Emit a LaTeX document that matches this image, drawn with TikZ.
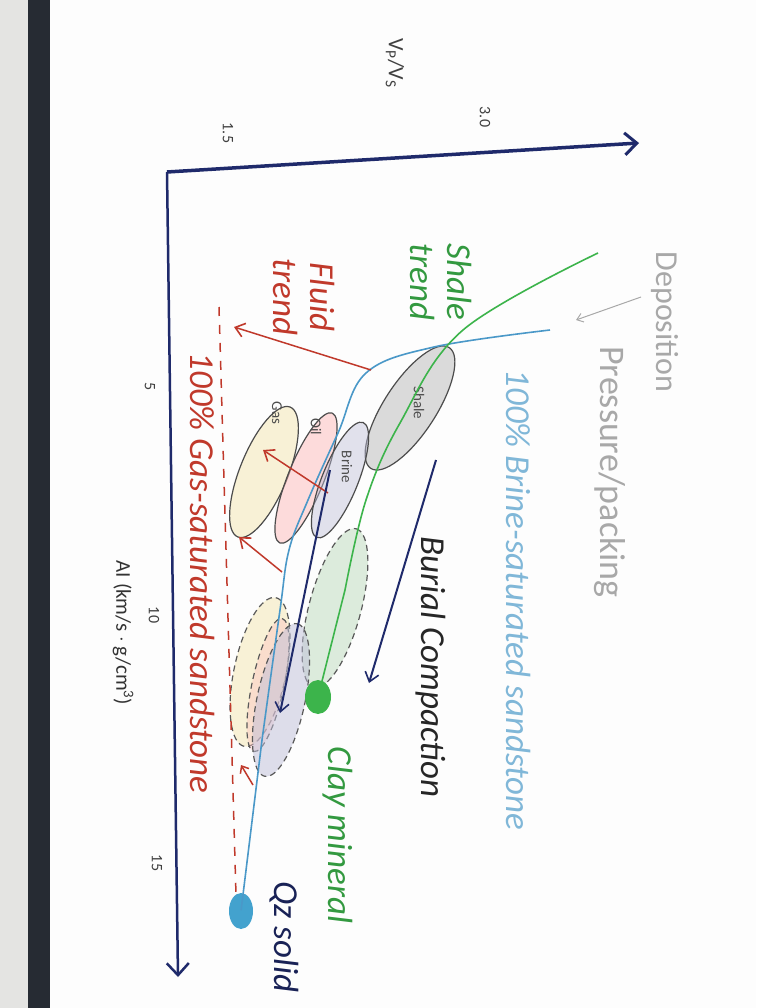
\documentclass[tikz,border=0pt]{standalone}
\usepackage{fontspec}
\setmainfont{Carlito}
\usetikzlibrary{arrows.meta}
\definecolor{navy}{HTML}{1F2A6B}
\definecolor{grn}{HTML}{3CB44B}
\definecolor{blu}{HTML}{4A98C8}
\definecolor{rd}{HTML}{C0392B}
\definecolor{gtx}{HTML}{A8A8A8}
\definecolor{bg}{HTML}{E4E4E2}
\definecolor{bezel}{HTML}{262B33}
\tikzset{
  lab/.style={rotate=-90,inner sep=0pt,font=\fontsize{35}{37}\selectfont\itshape},
  tick/.style={rotate=-90,inner sep=0pt,font=\fontsize{16}{18}\selectfont,text=black!75},
  elab/.style={rotate=-90,inner sep=0pt,font=\fontsize{15}{17}\selectfont,text=black!70},
  barb/.style={-{Straight Barb[length=9pt,width=14pt,line width=1.6pt]}},
  dashell/.style={draw=black!65,line width=1.2pt,dash pattern=on 6pt off 4pt},
}
\begin{document}
\begin{tikzpicture}[x=1pt,y=-1pt]
\useasboundingbox (0,0) rectangle (756,1008);
\fill[bg] (0,0) rectangle (756,1008);
\fill[white!92!bg] (50,0) rectangle (756,1008);
\fill[bezel] (28,0) rectangle (50,1008);
% axes
\coordinate (O) at (167,172);
\coordinate (Yend) at (639,143);
\coordinate (Xend) at (178,977);
\draw[navy,line width=3.5pt,-{Straight Barb[length=12pt,width=22pt,line width=3pt]}] (O) -- (Yend);
\draw[navy,line width=2.5pt,-{Straight Barb[length=12pt,width=22pt,line width=2.5pt]}] (O) -- (Xend);
\node[rotate=-90,inner sep=0pt,font=\fontsize{22}{24}\selectfont,text=black!75] (vpvs) at (395,63) {V\textsubscript{P}/V\textsubscript{S}};
\node[tick] (t30) at (485,117) {3.0};
\node[tick] (t15) at (228,133) {1.5};
\node[tick] (t5) at (150,387) {5};
\node[tick] (t10) at (154,615) {10};
\node[tick] (t15b) at (157,863) {15};
\node[rotate=-90,inner sep=0pt,font=\fontsize{21}{23}\selectfont,text=black!80] (ai) at (123,633) {AI (km/s $\cdot$ g/cm\textsuperscript{3})};
% text labels
\node[rotate=-90,inner sep=0pt,font=\fontsize{32}{34}\selectfont,text=gtx] (dep) at (665,322) {Deposition};
\node[rotate=-90,inner sep=0pt,text=gtx,font=\fontsize{36}{38}\selectfont] (press) at (610,472) {Pressure/packing};
\node[lab,text=blu!70!white] (brine100) at (518,600) {100\% Brine-saturated sandstone};
\node[lab,text=rd] (gas100) at (203,573) {100\% Gas-saturated sandstone};
\node[lab,text=black!85] (burial) at (431,667) {Burial Compaction};
\node[lab,text=grn!85!black,align=center] (shtr) at (441,282) {Shale\\trend};
\node[lab,text=rd,align=center] (fltr) at (304,297) {Fluid\\trend};
\node[lab,text=grn!85!black] (clay) at (338,835) {Clay mineral};
\node[lab,text=navy!80!black] (qz) at (284,937) {Qz solid};
% deposition arrow
\coordinate (pa) at (641,297);
\coordinate (pb) at (576,320);
\draw[gtx,line width=1pt,-{Straight Barb[length=6pt,width=9pt]}] (pa) -- (pb);
% ellipses solid
\fill[black!40,opacity=0.35] (410,408) ellipse[x radius=72,y radius=26,rotate=57];
\draw[black!70,line width=1.2pt] (410,408) ellipse[x radius=72,y radius=26,rotate=57];
\fill[yellow!50!brown!40,opacity=0.45] (264,472) ellipse[x radius=70,y radius=24,rotate=68];
\draw[black!70,line width=1.2pt] (264,472) ellipse[x radius=70,y radius=24,rotate=68];
\fill[red!30,opacity=0.45] (306,478) ellipse[x radius=70,y radius=18,rotate=68];
\draw[black!70,line width=1.2pt] (306,478) ellipse[x radius=70,y radius=18,rotate=68];
\fill[blue!25!gray!40,opacity=0.45] (340,480) ellipse[x radius=62,y radius=18,rotate=68];
\draw[black!70,line width=1.2pt] (340,480) ellipse[x radius=62,y radius=18,rotate=68];
% dashed ellipses
\fill[green!30!gray!40,opacity=0.5] (335,608) ellipse[x radius=82,y radius=26,rotate=75];
\draw[dashell] (335,608) ellipse[x radius=82,y radius=26,rotate=75];
\fill[yellow!50!brown!35,opacity=0.5] (260,672) ellipse[x radius=76,y radius=26,rotate=78];
\draw[dashell] (260,672) ellipse[x radius=76,y radius=26,rotate=78];
\fill[red!25,opacity=0.4] (268,685) ellipse[x radius=68,y radius=16,rotate=78];
\draw[dashell] (268,685) ellipse[x radius=68,y radius=16,rotate=78];
\fill[blue!25!gray!40,opacity=0.5] (281,700) ellipse[x radius=78,y radius=24,rotate=78];
\draw[dashell] (281,700) ellipse[x radius=78,y radius=24,rotate=78];
\node[elab] (eshale) at (419,403) {Shale};
\node[elab] (ebrine) at (347,467) {Brine};
\node[elab] (eoil) at (316,427) {Oil};
\node[elab] (egas) at (277,413) {Gas};
% dashed red gas line
\coordinate (ga) at (219,307);
\coordinate (gb) at (236,895);
\draw[rd,line width=1.5pt,dash pattern=on 9pt off 9pt] (ga) -- (gb);
% brine curve
\node[circle,inner sep=0pt] (qzdot) at (241,911) {};
\fill[blu!90!cyan] (qzdot) ellipse[x radius=12,y radius=18];
\draw[blu,line width=1.6pt] plot[smooth,tension=0.6] coordinates {(550,330) (434,347) (366,373) (338,433) (308,500) (289,550) (280,610) (262,740)} -- (qzdot);
% green curve
\node[circle,inner sep=0pt] (claydot) at (318,697) {};
\fill[grn] (claydot) ellipse[x radius=13,y radius=17];
\draw[grn,line width=1.6pt] plot[smooth,tension=0.6] coordinates {(598,253) (463,330) (400,423) (366,500) (345,590)} -- (claydot);
% arrows
\coordinate (fa) at (371,370);
\coordinate (fb) at (234,327);
\draw[rd,line width=1.5pt,barb] (fa) -- (fb);
\coordinate (ra1) at (328,493); \coordinate (rb1) at (263,450);
\draw[rd,line width=1.5pt,barb] (ra1) -- (rb1);
\coordinate (ra2) at (282,572); \coordinate (rb2) at (239,537);
\draw[rd,line width=1.5pt,barb] (ra2) -- (rb2);
\coordinate (ra3) at (253,785); \coordinate (rb3) at (241,765);
\draw[rd,line width=1.5pt,-{Straight Barb[length=6pt,width=10pt]}] (ra3) -- (rb3);
\coordinate (ba) at (436,460); \coordinate (bb) at (369,683);
\draw[navy,line width=2pt,barb] (ba) -- (bb);
\coordinate (ca) at (330,470); \coordinate (cb) at (280,713);
\draw[navy,line width=2pt,barb] (ca) -- (cb);
\end{tikzpicture}
\end{document}
